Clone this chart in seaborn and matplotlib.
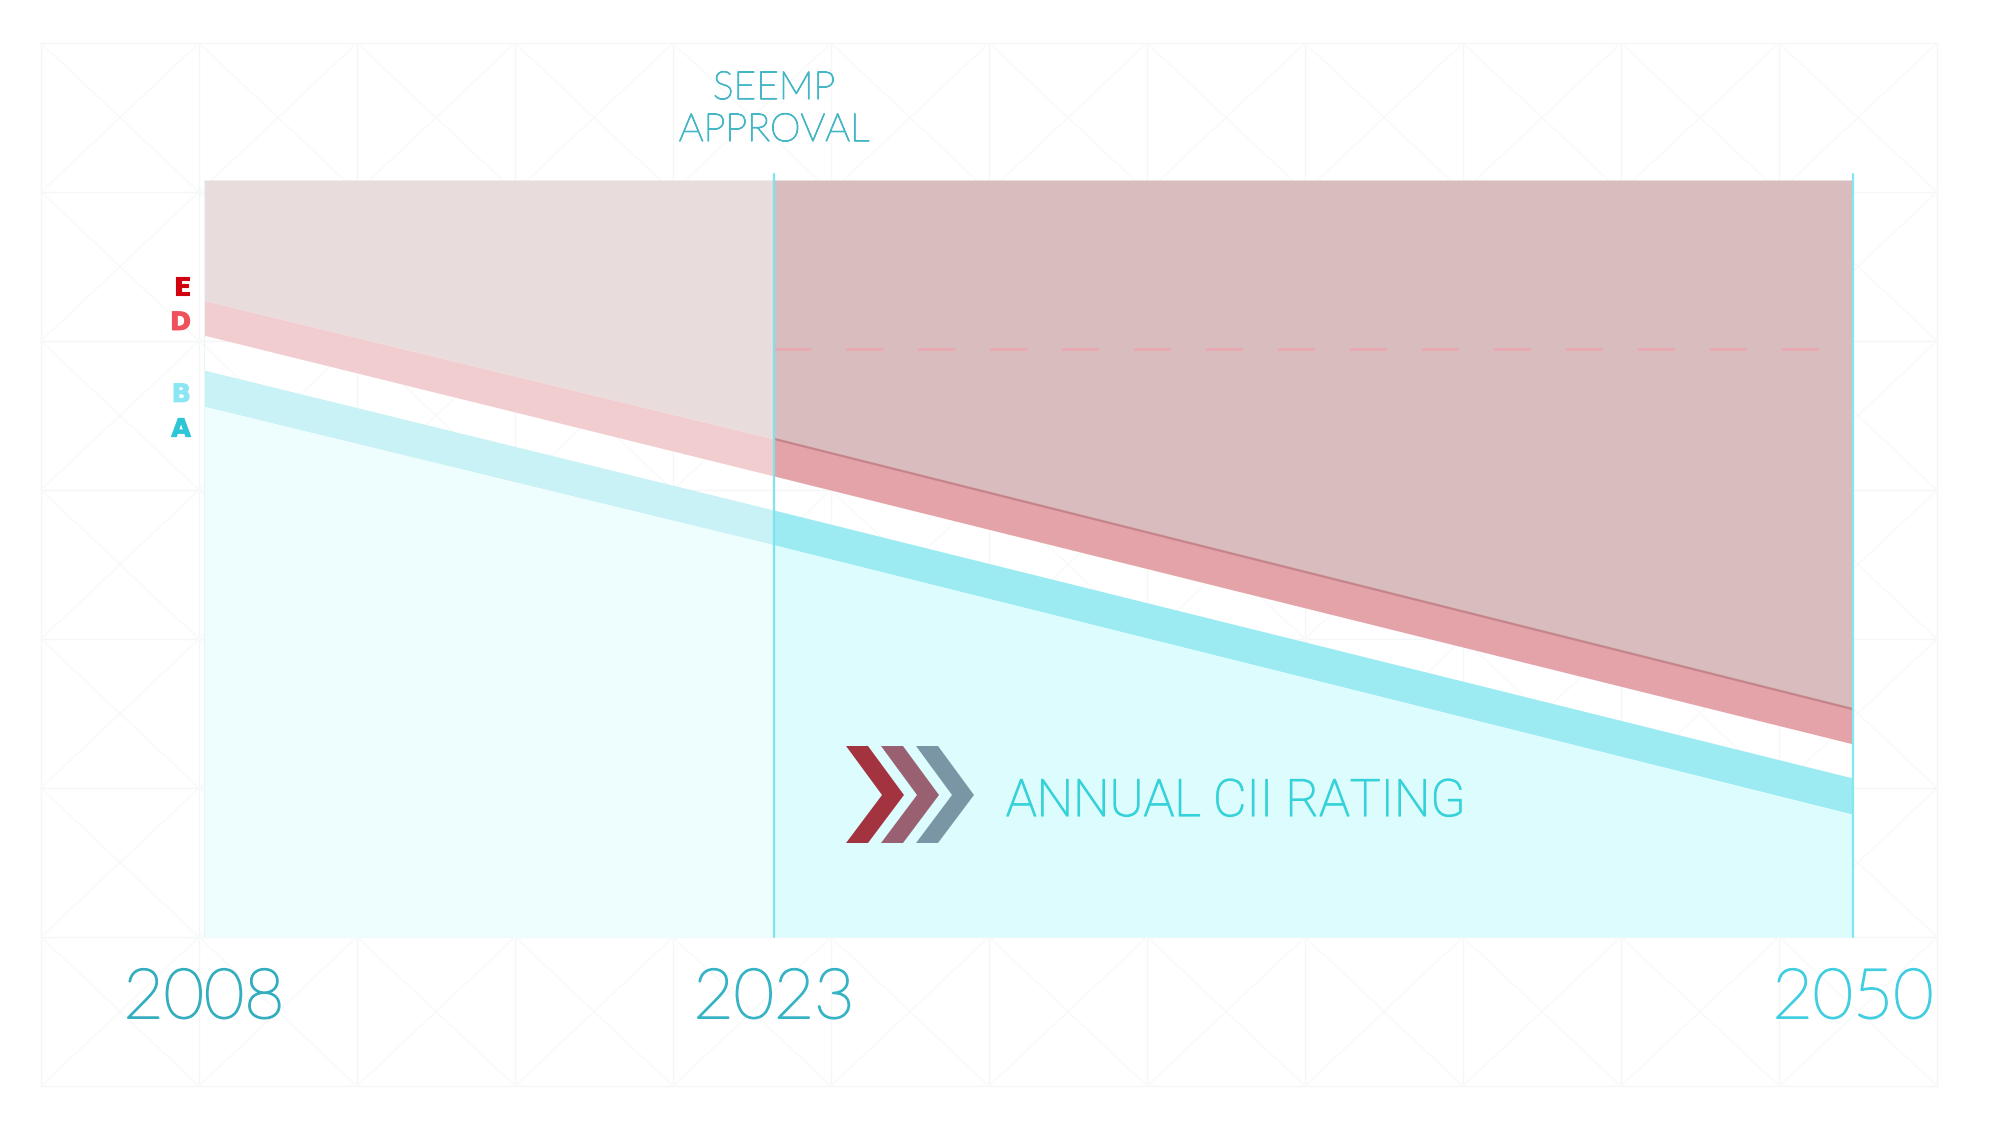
import numpy as np
import pandas as pd
import matplotlib
matplotlib.use("Agg")
import matplotlib.pyplot as plt
import matplotlib.transforms as mtransforms
import matplotlib.patheffects as pe
import seaborn as sns
from matplotlib.patches import Polygon

# ── Data ──────────────────────────────────────────────────────────────────────
years       = [2008, 2023, 2050]
year_labels = ["2008", "2023", "2050"]
ceiling     = [100, 100, 100]
d_upper     = [84.1, 65.8, 30.1]     # top edge of the D band
d_lower     = [79.5, 60.9, 25.5]
b_upper     = [74.9, 56.4, 21.0]     # top edge of the B band
b_lower     = [70.1, 51.8, 16.2]
floor       = [0, 0, 0]
e_threshold = 77.7                   # dashed reference after SEEMP approval

rating_letters  = ["E", "D", "B", "A"]
rating_baseline = [84.8, 80.2, 70.7, 66.1]
rating_colors   = ["#d0000f", "#f0505c", "#8ae6f2", "#2ec6d6"]

df = pd.DataFrame({
    "year": years, "ceiling": ceiling, "d_upper": d_upper, "d_lower": d_lower,
    "b_upper": b_upper, "b_lower": b_lower, "floor": floor,
})

# ── Style ─────────────────────────────────────────────────────────────────────
sns.set_theme(style="white")
plt.rcParams["font.family"] = ["Lato", "DejaVu Sans"]

W, H = 2000, 1124
fig = plt.figure(figsize=(W / 100, H / 100), dpi=100)
fig.patch.set_facecolor("white")


def thicken(color, width):
    """Light fonts render too thin here; add a stroke in the same colour."""
    return [pe.withStroke(linewidth=width, foreground=color)]


# ── Background tile pattern (faint grid with crosses) ─────────────────────────
bg = fig.add_axes([0, 0, 1, 1], zorder=0)
bg.set_xlim(0, W)
bg.set_ylim(H, 0)
bg.axis("off")
xs = np.arange(41, 1940, 158)
ys = np.arange(43, 1090, 149)
for x in xs:
    bg.plot([x, x], [ys[0], ys[-1]], color="#f5f7f7", lw=1)
for y in ys:
    bg.plot([xs[0], xs[-1]], [y, y], color="#f5f7f7", lw=1)
for x0, x1 in zip(xs[:-1], xs[1:]):
    for y0, y1 in zip(ys[:-1], ys[1:]):
        bg.plot([x0, x1], [y0, y1], color="#f8f9f9", lw=1)
        bg.plot([x0, x1], [y1, y0], color="#f8f9f9", lw=1)

# ── Main axes ─────────────────────────────────────────────────────────────────
left, right, top, bottom = 204, 1853, 180, 937
ax = fig.add_axes([left / W, 1 - bottom / H, (right - left) / W, (bottom - top) / H],
                  zorder=1)
ax.patch.set_alpha(0)

# piecewise time axis: the schematic stretches the later period
split = 0.3457


def fwd(x):
    x = np.asarray(x, float)
    return np.where(x < 2023, (x - 2008) / 15 * split,
                    split + (x - 2023) / 27 * (1 - split))


def inv(u):
    u = np.asarray(u, float)
    return np.where(u < split, 2008 + u / split * 15,
                    2023 + (u - split) / (1 - split) * 27)


ax.set_xscale("function", functions=(fwd, inv))
ax.set_xlim(2008, 2050)
ax.set_ylim(0, 100)
ax.set_xticks([])
ax.set_yticks([])
for s in ax.spines.values():
    s.set_visible(False)

before = df["year"] <= 2023
after = df["year"] >= 2023

zones = [
    ("d_upper", "ceiling", "#e8dcdc", "#d8bcbe"),
    ("d_lower", "d_upper", "#f1cdd0", "#e3a3a8"),
    ("b_lower", "b_upper", "#c8f2f5", "#9cebf2"),
    ("floor",   "b_lower", "#eefeff", "#dcfcfe"),
]
for lo, hi, c_before, c_after in zones:
    ax.fill_between(df["year"], df[lo], df[hi], where=before, color=c_before, lw=0)
    ax.fill_between(df["year"], df[lo], df[hi], where=after, color=c_after, lw=0)

# darker edge on the E/D boundary after approval
sns.lineplot(data=df[after], x="year", y="d_upper", ax=ax, color="#c4848a",
             lw=1.6, legend=False)
ax.set_xlabel("")
ax.set_ylabel("")

# dashed reference line
ax.plot([2023, 2050], [e_threshold, e_threshold], color="#eaa8b0", lw=2,
        dashes=(13.3, 12.6))

# vertical markers
ax.plot([2008, 2008], [0, 100], color="#e9f6f7", lw=1.5)
ax.plot([2023, 2023], [0, 100.8], color="#7fe3ee", lw=1.6, clip_on=False)
ax.plot([2050, 2050], [0, 100.8], color="#80e8f2", lw=1.6, clip_on=False)

# ── Text ──────────────────────────────────────────────────────────────────────
xdata_yaxes = mtransforms.blended_transform_factory(ax.transData, ax.transAxes)
xaxes_ydata = mtransforms.blended_transform_factory(ax.transAxes, ax.transData)

seemp_color = "#45b6c6"
for line, ypos in [("SEEMP", 1.107), ("APPROVAL", 1.0515)]:
    ax.text(2023, ypos, line, transform=xdata_yaxes, ha="center", va="baseline",
            fontsize=28, color=seemp_color, fontweight="light", clip_on=False,
            path_effects=thicken(seemp_color, 0.9))

year_colors = ["#34aebf", "#36b3c4", "#40cee0"]
for yr, lab, col in zip(years, year_labels, year_colors):
    ax.text(yr, -0.107, lab, transform=xdata_yaxes, ha="center", va="baseline",
            fontsize=50, color=col, fontweight="light", clip_on=False,
            path_effects=thicken(col, 1.4))

for letter, lvl, col in zip(rating_letters, rating_baseline, rating_colors):
    ax.text(-0.008, lvl, letter, transform=xaxes_ydata, ha="right", va="baseline",
            fontsize=18, color=col, fontweight="bold",
            family=["DejaVu Sans"], clip_on=False,
            path_effects=thicken(col, 0.8))

annual_color = "#36d2da"
ax.text((1006 - left) / (right - left), (bottom - 816) / (bottom - top),
        "ANNUAL CII RATING", transform=ax.transAxes, ha="left", va="baseline",
        fontsize=37, color=annual_color, fontweight="light",
        family=["Roboto", "DejaVu Sans"],
        path_effects=thicken(annual_color, 0.9))


# ── Chevron icon ──────────────────────────────────────────────────────────────
def chevron(x0, color):
    ytop, ymid, ybot = 746, 795, 843
    pts = [(x0, ytop), (x0 + 22, ytop), (x0 + 58, ymid),
           (x0 + 22, ybot), (x0, ybot), (x0 + 36, ymid)]
    pts = [(px / W, 1 - py / H) for px, py in pts]
    fig.add_artist(Polygon(pts, closed=True, transform=fig.transFigure,
                           facecolor=color, edgecolor="none", zorder=3))


for x0, col in zip([846, 881, 916], ["#a3343f", "#986070", "#7a95a3"]):
    chevron(x0, col)

fig.savefig("out.png", dpi=100)
